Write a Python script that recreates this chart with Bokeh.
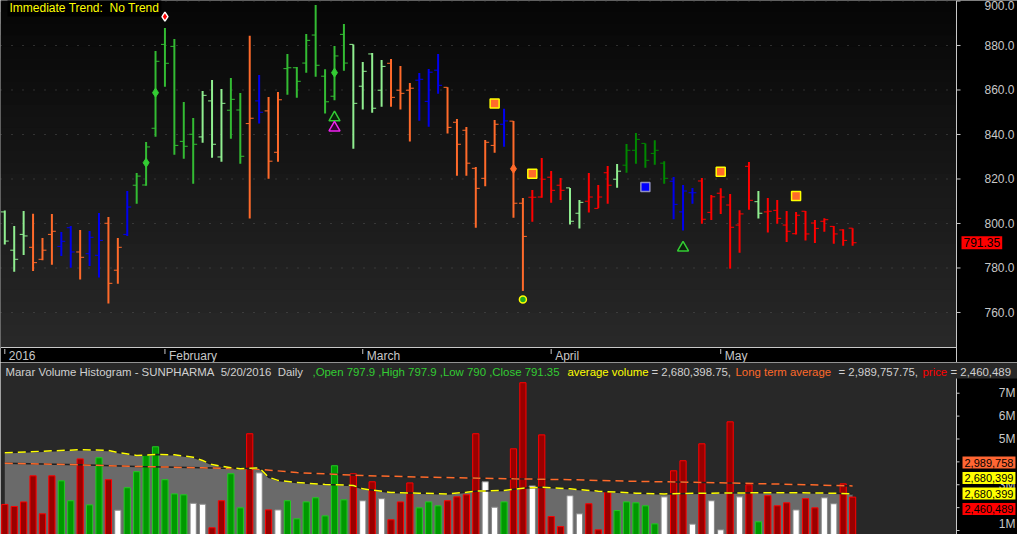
from bokeh.plotting import figure
from bokeh.models import Range1d, Label, BoxAnnotation, Span, ColumnDataSource
from bokeh.layouts import column
from bokeh.embed import file_html
from bokeh.resources import INLINE

FONT = "Liberation Sans"

# ---------------- data ----------------
month_labels = ["2016", "February", "March", "April", "May"]
month_idx = [0, 17, 38, 58, 76]

opens = [805.2, 788.0, 795.1, 789.3, 783.9, 795.1, 789.7, 798.1, 787.2, 786.4,
         785.7, 800.1, 779.0, 795.1, 817.2, 817.3, 842.8, 880.5, 879.6, 836.9,
         840.1, 838.9, 855.1, 829.9, 850.9, 851.0, 844.9, 855.1, 850.6, 832.0,
         869.6, 870.0, 872.1, 884.7, 866.2, 857.2, 885.0, 880.5, 861.7, 876.2,
         859.9, 872.0, 859.9, 859.9, 864.4, 854.9, 868.9, 861.2, 845.5, 841.9,
         824.8, 820.3, 835.1, 844.6, 846.0, 809.1, 811.8, 811.9, 820.8, 817.2,
         816.0, 804.6, 810.0, 806.8, 822.8, 819.9, 826.2, 832.9, 836.0, 831.5,
         827.1, 819.0, 805.2, 813.8, 819.1, 805.0, 813.6, 808.3, 799.3, 825.7,
         809.8, 805.2, 805.9, 799.3, 795.4, 805.5, 800.2, 801.0, 798.7, 797.1,
         797.9]
highs = [805.8, 798.9, 805.6, 804.4, 793.5, 804.3, 796.2, 798.9, 797.1, 796.6,
         804.7, 802.9, 793.5, 814.6, 822.7, 836.6, 877.5, 887.9, 882.9, 854.6,
         847.4, 859.6, 864.5, 860.4, 865.4, 858.7, 884.4, 866.7, 856.9, 859.1,
         876.2, 870.3, 885.2, 898.2, 869.3, 879.8, 889.7, 880.5, 872.6, 876.6,
         873.5, 873.9, 870.8, 863.1, 867.6, 869.4, 876.2, 861.2, 847.0, 843.4,
         825.4, 837.5, 846.5, 851.6, 846.1, 811.5, 815.1, 829.4, 823.6, 820.4,
         816.0, 810.6, 822.7, 817.3, 825.8, 826.7, 835.7, 840.7, 836.0, 837.4,
         828.0, 820.9, 817.3, 816.0, 820.5, 812.8, 815.8, 813.3, 805.9, 827.6,
         814.6, 811.5, 810.6, 805.6, 805.2, 805.6, 801.6, 802.3, 798.9, 797.4,
         797.9]
lows = [790.6, 778.3, 785.8, 778.7, 783.5, 781.5, 785.4, 780.1, 774.8, 780.9,
        775.7, 764.0, 772.9, 794.4, 808.9, 817.0, 839.0, 861.5, 830.9, 829.1,
        817.9, 836.3, 829.6, 827.8, 838.1, 826.9, 802.2, 844.9, 820.1, 827.8,
        857.9, 856.5, 867.8, 866.0, 849.4, 855.4, 868.7, 833.6, 851.2, 849.8,
        852.5, 852.5, 851.2, 836.8, 846.2, 843.5, 858.3, 840.4, 821.5, 821.5,
        798.1, 816.7, 831.8, 834.5, 802.6, 769.7, 800.8, 811.6, 809.3, 810.6,
        799.5, 797.7, 804.9, 806.8, 808.9, 816.1, 822.8, 826.9, 825.1, 826.4,
        817.9, 801.9, 796.9, 808.9, 799.9, 801.6, 804.3, 779.7, 786.9, 806.2,
        802.2, 795.9, 799.9, 791.7, 795.0, 792.3, 791.2, 796.3, 790.9, 790.0,
        790.0]
closes = [792.1, 783.9, 794.4, 782.4, 788.0, 796.5, 792.0, 787.2, 784.8, 793.8,
          792.4, 773.1, 789.3, 807.4, 821.3, 834.4, 872.9, 872.0, 835.1, 834.7,
          835.6, 857.6, 835.6, 854.0, 855.8, 830.2, 847.3, 850.0, 828.0, 855.6,
          870.0, 863.9, 882.3, 871.1, 854.7, 875.3, 872.1, 854.0, 868.4, 851.8,
          870.6, 856.7, 858.5, 860.8, 864.8, 868.0, 862.1, 843.2, 835.6, 827.1,
          815.8, 836.5, 844.6, 846.1, 809.1, 794.2, 811.8, 819.9, 814.9, 814.9,
          801.0, 809.5, 811.9, 811.9, 817.2, 823.5, 832.9, 837.8, 828.4, 832.9,
          820.3, 808.6, 814.6, 813.8, 801.9, 812.0, 811.9, 798.3, 804.3, 810.4,
          804.6, 805.5, 802.3, 796.5, 803.7, 795.3, 797.8, 801.7, 795.3, 792.4,
          791.35]
trend = ("lg lg lg or or or bl bl or bl "
         "bl or or bl g g g g g g "
         "g lg lg lg g g or bl or or "
         "g g g g g g g lg lg lg "
         "lg or or or bl bl bl or or or "
         "or or or bl or or r r r r "
         "lg lg r r r lg dg dg dg dg "
         "dg bl bl bl r r r r r r "
         "lg r r r r r r r r r r").split()

volumes_m = [2.14, 2.05, 2.25, 3.39, 1.73, 3.39, 3.17, 2.30, 4.13, 2.12,
             4.18, 3.22, 1.89, 2.87, 3.57, 4.29, 4.66, 3.22, 2.60, 2.56,
             2.19, 2.15, 1.12, 2.30, 3.48, 1.99, 5.23, 3.52, 1.90, 1.90,
             2.30, 1.51, 2.25, 2.43, 1.64, 3.83, 2.34, 3.48, 2.30, 3.13,
             2.39, 1.47, 2.25, 3.08, 1.99, 2.25, 2.08, 2.30, 2.47, 2.56,
             5.23, 3.13, 2.02, 2.25, 4.57, 7.46, 2.95, 5.18, 1.61, 1.17,
             2.52, 1.73, 2.17, 1.03, 2.69, 1.87, 2.25, 2.21, 2.08, 1.29,
             2.47, 3.61, 4.05, 1.28, 4.79, 2.30, 1.03, 5.75, 2.47, 3.00,
             1.38, 2.52, 2.08, 2.21, 1.90, 2.39, 1.99, 2.43, 2.17, 3.04, 2.46]
vol_kind = ("R R R R R R G G R G "
            "G R W G G G G G G G "
            "W W R R G G R W R W "
            "G G G G G G G R W R "
            "W R R R G G G R R R "
            "R W W G R R W R R R "
            "W W R R R G G G G G "
            "W R R W R W W R W R "
            "G R R R W R R W W R R").split()

avg_idx = [0, 8, 11, 12, 14, 16, 18, 20, 21, 22, 24, 25, 27, 28, 29, 31, 34, 35, 37,
           38, 41, 44, 47, 49, 50, 53, 55, 57, 60, 63, 67, 70, 74, 77, 81, 84, 88, 90]
avg_vol = [4.40, 4.53, 4.50, 4.41, 4.28, 4.32, 4.31, 4.20, 4.06, 3.88, 3.74, 3.70, 3.74,
           3.33, 3.19, 3.10, 3.01, 3.00, 2.97, 2.82, 2.66, 2.63, 2.60, 2.67, 2.72, 2.75,
           2.85, 2.89, 2.82, 2.72, 2.63, 2.60, 2.63, 2.64, 2.65, 2.65, 2.63, 2.60]
lt_idx = [0, 8, 14, 21, 27, 31, 38, 45, 54, 60, 67, 74, 81, 90]
lt_vol = [3.94, 3.87, 3.80, 3.74, 3.68, 3.53, 3.40, 3.33, 3.26, 3.22, 3.15, 3.10, 3.04, 2.95]

price_ticks = [760, 780, 800, 820, 840, 860, 880, 900]
vol_ticks = [1, 2, 3, 4, 5, 6, 7]

green_diamond_idx = [15, 16, 35]
green_diamond_px = [827.3, 858.8, 867.8]
orange_diamond_idx = [54]
orange_diamond_px = [824.6]
red_dot_idx = [17]
red_dot_px = [893.0]
orange_sq_idx = [52, 56, 76, 84]
orange_sq_px = [853.9, 822.4, 823.3, 812.4]
blue_sq_idx = [68]
blue_sq_px = [816.4]
green_tri_idx = [35, 72]
green_tri_px = [847.6, 789.1]
mag_tri_idx = [35]
mag_tri_px = [843.0]
circle_idx = [55]
circle_px = [765.8]

symbol = "SUNPHARMA"
date_str = "5/20/2016"
avg_volume_value = 2680398.75
long_term_avg_value = 2989757.75
last_volume = 2460489
box_values = [2989758, 2680399, 2680399, 2460489]

# ---------------- styles / geometry ----------------
TREND_COLORS = {"lg": "#90ee90", "g": "#33bb33", "dg": "#008800",
                "or": "#ff6a2a", "bl": "#0000ee", "r": "#ff0000"}
VOL_FILL = {"R": "#990000", "G": "#009900", "W": "#ffffff"}
VOL_LINE = {"R": "#ff0000", "G": "#22cc22", "W": "#888888"}
AXIS_C = "#c8c8c8"

W = 1017
PLOT_W = 956
TOP_H, STRIP_H = 347, 15
BOT_H = 172

n = len(closes)
idx = list(range(n))
BAR_PX = 9.42
X0 = -4.3 / BAR_PX
UX = 1.0 / BAR_PX
X_EDGE = X0 + PLOT_W * UX
X_END = X0 + W * UX

PY1 = 900.22
UY = 1.0 / 2.225
PY0 = PY1 - TOP_H * UY
PY_BOT = PY1 - (TOP_H + STRIP_H) * UY

VY1 = 8.343
UV = 1.0 / 22.88
VY0 = VY1 - BOT_H * UV
VY_TITLE = VY1 - 16 * UV

# ---------------- price panel ----------------
p = figure(width=W, height=TOP_H + STRIP_H, title=None,
           x_range=Range1d(X0, X_END), y_range=Range1d(PY_BOT, PY1),
           output_backend="svg", toolbar_location=None,
           x_axis_location=None, y_axis_location=None, min_border=0)
p.background_fill_color = "#000000"
p.border_fill_color = "#000000"
p.outline_line_color = None
p.grid.visible = False

# vertical background gradient (stacked bands, each reaching the bottom so no seams show)
nb = 30
for k in range(nb):
    t = k / (nb - 1)
    c = int(round(6 + (40 - 6) * t))
    p.add_layout(BoxAnnotation(top=PY1 - (PY1 - PY0) * k / nb, bottom=PY0,
                               right=X_EDGE,
                               fill_color="#%02x%02x%02x" % (c, c, c), fill_alpha=1,
                               line_color=None, level="image"))

# dotted horizontal grid
p.segment(x0=[X0] * len(price_ticks), x1=[X_EDGE] * len(price_ticks),
          y0=price_ticks, y1=price_ticks, line_color="#555555", line_dash="1 10", line_width=1)
# axes
p.segment(x0=[X0], x1=[X_EDGE], y0=[PY0], y1=[PY0], line_color=AXIS_C, line_width=1)
p.add_layout(Span(location=X_EDGE, dimension="height", line_color=AXIS_C, line_width=1))
p.add_layout(Span(location=X0, dimension="height", line_color="#b0b0b0", line_width=1))
p.segment(x0=[X_EDGE] * len(price_ticks), x1=[X_EDGE + 4 * UX] * len(price_ticks),
          y0=price_ticks, y1=price_ticks, line_color=AXIS_C, line_width=1)
p.segment(x0=month_idx, x1=month_idx, y0=[PY0 - 1.5 * UY] * len(month_idx),
          y1=[PY0 - 6.5 * UY] * len(month_idx), line_color=AXIS_C, line_width=1)

for t in price_ticks:
    near_top = (PY1 - t) / UY < 7
    p.add_layout(Label(x=X_EDGE, y=t, x_offset=28, text="%.1f" % t, text_color=AXIS_C,
                       text_font=FONT, text_font_size="12px",
                       text_baseline="top" if near_top else "middle"))
for lab, mi in zip(month_labels, month_idx):
    p.add_layout(Label(x=mi, y=PY0, x_offset=4, y_offset=-8, text=lab,
                       text_color=AXIS_C, text_font=FONT, text_font_size="12px",
                       text_baseline="middle"))

src = ColumnDataSource(dict(x=idx, o=opens, h=highs, l=lows, c=closes,
                            col=[TREND_COLORS[t] for t in trend],
                            xl=[i - 0.42 for i in idx], xr=[i + 0.42 for i in idx]))
p.segment(x0="x", y0="l", x1="x", y1="h", line_color="col", line_width=2, source=src)
p.segment(x0="xl", y0="o", x1="x", y1="o", line_color="col", line_width=1, source=src)
p.segment(x0="x", y0="c", x1="xr", y1="c", line_color="col", line_width=1, source=src)

p.scatter(green_diamond_idx, green_diamond_px, marker="diamond", size=9,
          fill_color="#33cc33", line_color="#33cc33")
p.scatter(orange_diamond_idx, orange_diamond_px, marker="diamond", size=9,
          fill_color="#ff6a2a", line_color="#ff6a2a")
p.scatter(red_dot_idx, red_dot_px, marker="diamond", size=9,
          fill_color="#ff0000", line_color="#ffffff", line_width=1.5)
p.scatter(orange_sq_idx, orange_sq_px, marker="square", size=9,
          fill_color="#ff6a2a", line_color="#ffff00", line_width=1.5)
p.scatter(blue_sq_idx, blue_sq_px, marker="square", size=9,
          fill_color="#0000ff", line_color="#9090c0", line_width=1.5)
p.scatter(green_tri_idx, green_tri_px, marker="triangle", size=11,
          fill_color="#0c200c", line_color="#33cc33", line_width=1.5)
p.scatter(mag_tri_idx, mag_tri_px, marker="triangle", size=11,
          fill_color="#300830", line_color="#ee22ee", line_width=1.5)
p.scatter(circle_idx, circle_px, marker="circle", size=7,
          fill_color="#22aa22", line_color="#ffff00", line_width=1.5)

p.add_layout(Label(x=X0, y=PY1, x_offset=7, y_offset=-7,
                   text="Immediate Trend:\u00a0\u00a0No Trend", text_color="#ffff00",
                   text_font=FONT, text_font_size="12px", text_baseline="middle",
                   background_fill_color="#000000", padding=2))

p.add_layout(Label(x=X_EDGE, y=closes[-1], x_offset=5, text="%.2f" % closes[-1],
                   text_color="#000000", text_font=FONT, text_font_size="12px",
                   text_baseline="middle", background_fill_color="#ff0000", padding=2))

# ---------------- volume panel ----------------
p2 = figure(width=W, height=BOT_H, title=None,
            x_range=p.x_range, y_range=Range1d(VY0, VY1),
            output_backend="svg", toolbar_location=None,
            x_axis_location=None, y_axis_location=None, min_border=0)
p2.background_fill_color = "#282828"
p2.border_fill_color = "#000000"
p2.outline_line_color = None
p2.grid.visible = False

p2.add_layout(BoxAnnotation(left=X_EDGE, top=VY_TITLE, fill_color="#000000", fill_alpha=1,
                            line_color=None, level="image"))
p2.add_layout(Span(location=X0, dimension="height", line_color="#b0b0b0", line_width=1))
p2.segment(x0=[X_EDGE], x1=[X_EDGE], y0=[VY0], y1=[VY_TITLE], line_color=AXIS_C, line_width=1)
p2.segment(x0=[X_EDGE] * len(vol_ticks), x1=[X_EDGE + 3 * UX] * len(vol_ticks),
           y0=vol_ticks, y1=vol_ticks, line_color=AXIS_C, line_width=1)
for v in vol_ticks:
    near_bottom = (v - VY0) / UV < 7
    p2.add_layout(Label(x=X_EDGE, y=v, x_offset=59, text="%dM" % v, text_align="right",
                        text_color=AXIS_C, text_font=FONT, text_font_size="12px",
                        text_baseline="bottom" if near_bottom else "middle"))

p2.varea(x=avg_idx, y1=[0] * len(avg_idx), y2=avg_vol, fill_color="#6a6a6a")
p2.vbar(x=idx, width=0.66, bottom=0, top=volumes_m,
        fill_color=[VOL_FILL[k] for k in vol_kind],
        line_color=[VOL_LINE[k] for k in vol_kind], line_width=1)
p2.line(lt_idx, lt_vol, line_color="#202020", line_width=1.5)
p2.line(lt_idx, lt_vol, line_color="#ff6a2a", line_width=1.5, line_dash="8 5")
p2.line(avg_idx, avg_vol, line_color="#202020", line_width=1.5)
p2.line(avg_idx, avg_vol, line_color="#ffff00", line_width=1.5, line_dash="8 5")

title_parts = [
    ("Marar Volume Histogram - %s\u00a0\u00a0%s\u00a0\u00a0Daily" % (symbol, date_str), "#d0d0d0", 5),
    (",Open %g ,High %g ,Low %g ,Close %g" % (opens[-1], highs[-1], lows[-1], closes[-1]), "#33cc33", 312),
    ("average volume", "#ffff00", 567),
    ("= {:,.2f},".format(avg_volume_value), "#d0d0d0", 651),
    ("Long term average", "#ff6a2a", 735),
    ("= {:,.2f},".format(long_term_avg_value), "#d0d0d0", 838),
    ("price", "#ff0000", 922),
    ("= {:,}".format(last_volume), "#d0d0d0", 950),
]
for txt, col, xo in title_parts:
    p2.add_layout(Label(x=X0, y=VY1, x_offset=xo, y_offset=-9, text=txt,
                        text_color=col, text_font=FONT, text_font_size="11.4px",
                        text_baseline="middle"))

box_colors = ["#ff6633", "#ffff00", "#ffff00", "#ff0000"]
box_offsets = [100, 115.5, 131, 146.5]
for v, bc, off in zip(box_values, box_colors, box_offsets):
    p2.add_layout(Label(x=X_EDGE, y=VY1, x_offset=6, y_offset=-off, text="{:,}".format(v),
                        text_color="#000000", text_font=FONT, text_font_size="11px",
                        text_baseline="middle", background_fill_color=bc, padding=2))

layout = column(p, p2)
open("out.html", "w").write(file_html(layout, INLINE))
